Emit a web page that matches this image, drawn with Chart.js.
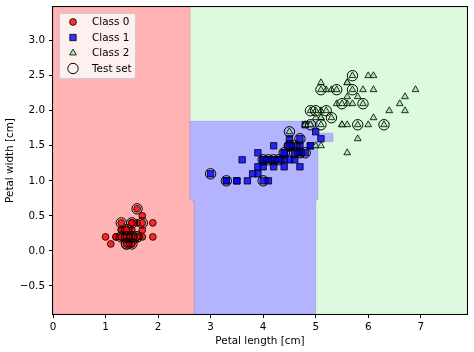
<!DOCTYPE html>
<html>
<head>
<meta charset="utf-8">
<script src="https://cdn.jsdelivr.net/npm/chart.js@4/dist/chart.umd.min.js"></script>
<style>
  html, body { margin: 0; padding: 0; background: #fff; }
  #chart { display: block; }
</style>
</head>
<body>
<canvas id="chart" width="474" height="352"></canvas>
<script>
// Petal length / width per class (iris, train + test)
const class0Length = [1.4,1.4,1.3,1.5,1.4,1.7,1.4,1.5,1.4,1.5,1.5,1.6,1.4,1.1,1.2,1.5,1.3,1.4,1.7,1.5,1.7,1.5,1.0,1.7,1.9,1.6,1.6,1.5,1.4,1.6,1.6,1.5,1.5,1.4,1.5,1.2,1.3,1.4,1.3,1.5,1.3,1.3,1.3,1.6,1.9,1.4,1.6,1.4,1.5,1.4];
const class0Width  = [0.2,0.2,0.2,0.2,0.2,0.4,0.3,0.2,0.2,0.1,0.2,0.2,0.1,0.1,0.2,0.4,0.4,0.3,0.3,0.3,0.2,0.4,0.2,0.5,0.2,0.2,0.4,0.2,0.2,0.2,0.2,0.4,0.1,0.2,0.2,0.2,0.2,0.1,0.2,0.2,0.3,0.3,0.2,0.6,0.4,0.3,0.2,0.2,0.2,0.2];

const class1Length = [4.7,4.5,4.9,4.0,4.6,4.5,4.7,3.3,4.6,3.9,3.5,4.2,4.0,4.7,3.6,4.4,4.5,4.1,4.5,3.9,4.8,4.0,4.9,4.7,4.3,4.4,4.8,5.0,4.5,3.5,3.8,3.7,3.9,5.1,4.5,4.5,4.7,4.4,4.1,4.0,4.4,4.6,4.0,3.3,4.2,4.2,4.2,4.3,3.0,4.1];
const class1Width  = [1.4,1.5,1.5,1.3,1.5,1.3,1.6,1.0,1.3,1.4,1.0,1.5,1.0,1.4,1.3,1.4,1.5,1.0,1.5,1.1,1.8,1.3,1.5,1.2,1.3,1.4,1.4,1.7,1.5,1.0,1.1,1.0,1.2,1.6,1.5,1.6,1.5,1.3,1.3,1.3,1.2,1.4,1.2,1.0,1.3,1.2,1.3,1.3,1.1,1.3];

const class2Length = [6.0,5.1,5.9,5.6,5.8,6.6,4.5,6.3,5.8,6.1,5.1,5.3,5.5,5.0,5.1,5.3,5.5,6.7,6.9,5.0,5.7,4.9,6.7,4.9,5.7,6.0,4.8,4.9,5.6,5.8,6.1,6.4,5.6,5.1,5.6,6.1,5.6,5.5,4.8,5.4,5.6,5.1,5.1,5.9,5.7,5.2,5.0,5.2,5.4,5.1];
const class2Width  = [2.5,1.9,2.1,1.8,2.2,2.1,1.7,1.8,1.8,2.5,2.0,1.9,2.1,2.0,2.4,2.3,1.8,2.2,2.3,1.5,2.3,2.0,2.0,1.8,2.1,1.8,1.8,1.8,2.1,1.6,1.9,2.0,2.2,1.5,1.4,2.3,2.4,1.8,1.8,2.1,2.4,2.3,1.9,2.3,2.5,2.3,1.9,2.0,2.3,1.8];

// circled test samples
const testLength = [1.6,1.3,1.5,1.7,1.4,1.5,1.6,1.4,1.4,1.5,1.3,1.5,1.4,1.6,1.4,
                    3.0,3.3,4.0,4.0,4.2,4.3,4.7,4.5,4.6,4.7,4.8,4.4,4.5,4.6,4.1,
                    5.7,5.1,5.4,5.7,5.5,5.9,4.9,5.0,5.2,5.3,4.9,5.1,5.8,6.3,4.5];
const testWidth  = [0.6,0.4,0.4,0.4,0.1,0.1,0.2,0.3,0.2,0.2,0.2,0.2,0.2,0.2,0.1,
                    1.1,1.0,1.0,1.3,1.3,1.3,1.6,1.5,1.5,1.4,1.4,1.4,1.5,1.4,1.3,
                    2.5,2.3,2.3,2.3,2.1,2.1,2.0,2.0,2.0,1.9,1.8,1.8,1.8,1.8,1.7];

// decision regions (data coords)
const greenRegionX = [0, 7.88, 7.88, 0];
const greenRegionY = [-0.9, -0.9, 3.48, 3.48];
const redRegionX = [0, 2.69, 2.69, 2.61, 2.61, 0];
const redRegionY = [-0.9, -0.9, 0.71, 0.74, 3.48, 3.48];
const blueRegionX = [2.69, 5.00, 5.00, 5.04, 5.04, 5.33, 5.33, 5.04, 5.04, 2.61, 2.61, 2.69];
const blueRegionY = [-0.9, -0.9, 0.71, 0.74, 1.56, 1.56, 1.68, 1.68, 1.85, 1.85, 0.74, 0.71];

const xTicks = [0, 1, 2, 3, 4, 5, 6, 7];
const yTicks = [-0.5, 0.0, 0.5, 1.0, 1.5, 2.0, 2.5, 3.0];

const FONT = { family: 'DejaVu Sans', size: 10.4 };

function toPoints(xs, ys) {
    return xs.map((x, i) => ({ x: x, y: ys[i] }));
}

const regions = [
    { xs: greenRegionX, ys: greenRegionY, color: '#defade', edge: 'rgba(120,200,120,0.5)' },
    { xs: redRegionX, ys: redRegionY, color: '#ffb3b3', edge: 'rgba(200,110,130,0.6)' },
    { xs: blueRegionX, ys: blueRegionY, color: '#b3b3ff', edge: 'rgba(120,120,220,0.6)' }
];

// fill the decision regions under the points
const regionPlugin = {
    id: 'regions',
    beforeDatasetsDraw(chart) {
        const ctx = chart.ctx;
        const xs = chart.scales.x, ys = chart.scales.y;
        const a = chart.chartArea;
        ctx.save();
        ctx.beginPath();
        ctx.rect(a.left, a.top, a.right - a.left, a.bottom - a.top);
        ctx.clip();
        regions.forEach(r => {
            ctx.beginPath();
            r.xs.forEach((x, i) => {
                const px = xs.getPixelForValue(x), py = ys.getPixelForValue(r.ys[i]);
                if (i === 0) ctx.moveTo(px, py); else ctx.lineTo(px, py);
            });
            ctx.closePath();
            ctx.fillStyle = r.color;
            ctx.fill();
            ctx.strokeStyle = r.edge;
            ctx.lineWidth = 0.6;
            ctx.stroke();
        });
        ctx.restore();
    }
};

// matplotlib-like spines on all four sides
const framePlugin = {
    id: 'frame',
    afterDatasetsDraw(chart) {
        const ctx = chart.ctx, a = chart.chartArea;
        ctx.save();
        ctx.strokeStyle = '#000';
        ctx.lineWidth = 1;
        ctx.strokeRect(Math.round(a.left) - 0.5, Math.round(a.top) - 0.5,
                       Math.round(a.right - a.left) + 1, Math.round(a.bottom - a.top) + 1);
        ctx.restore();
    }
};

// legend box in the upper-left corner of the plot
const legendPlugin = {
    id: 'insideLegend',
    afterDraw(chart) {
        const ctx = chart.ctx, a = chart.chartArea;
        const x0 = a.left + 6, y0 = a.top + 6, w = 76, h = 65;
        ctx.save();
        ctx.beginPath();
        ctx.roundRect(x0 + 0.5, y0 + 0.5, w, h, 2);
        ctx.fillStyle = 'rgba(255,255,255,0.8)';
        ctx.fill();
        ctx.strokeStyle = '#cccccc';
        ctx.lineWidth = 1;
        ctx.stroke();
        ctx.font = FONT.size + 'px ' + FONT.family;
        ctx.textBaseline = 'middle';
        chart.data.datasets.forEach((ds, i) => {
            const cy = y0 + 9 + i * 15.5;
            ctx.fillStyle = ds.backgroundColor;
            ctx.strokeStyle = ds.borderColor;
            ctx.lineWidth = ds.borderWidth;
            Chart.helpers.drawPoint(ctx, {
                pointStyle: ds.pointStyle,
                radius: ds.pointRadius,
                borderWidth: ds.borderWidth,
                rotation: 0
            }, x0 + 14, cy);
            ctx.fillStyle = '#000';
            ctx.fillText(ds.label, x0 + 33, cy + 0.5);
        });
        ctx.restore();
    }
};

const tickGrid = {
    display: true,
    drawOnChartArea: false,
    drawTicks: true,
    tickLength: 4,
    tickColor: '#000',
    tickWidth: 1
};

const chart = new Chart(document.getElementById('chart').getContext('2d'), {
    type: 'scatter',
    data: {
        datasets: [{
            label: 'Class 0',
            data: toPoints(class0Length, class0Width),
            pointStyle: 'circle',
            pointRadius: 3.4,
            backgroundColor: 'rgba(255,0,0,0.8)',
            borderColor: 'rgba(0,0,0,0.8)',
            borderWidth: 1,
            order: 4
        }, {
            label: 'Class 1',
            data: toPoints(class1Length, class1Width),
            pointStyle: 'rect',
            pointRadius: 4.5,
            backgroundColor: 'rgba(0,0,255,0.8)',
            borderColor: 'rgba(0,0,0,0.8)',
            borderWidth: 1,
            order: 3
        }, {
            label: 'Class 2',
            data: toPoints(class2Length, class2Width),
            pointStyle: 'triangle',
            pointRadius: 3.9,
            backgroundColor: 'rgba(144,238,144,0.8)',
            borderColor: 'rgba(0,0,0,0.8)',
            borderWidth: 1,
            order: 2
        }, {
            label: 'Test set',
            data: toPoints(testLength, testWidth),
            pointStyle: 'circle',
            pointRadius: 5.2,
            backgroundColor: 'rgba(0,0,0,0)',
            borderColor: '#000',
            borderWidth: 1,
            order: 1
        }]
    },
    options: {
        responsive: false,
        animation: false,
        events: [],
        layout: { padding: { top: 7, right: 7, left: 0, bottom: 0 } },
        plugins: {
            legend: { display: false },
            tooltip: { enabled: false }
        },
        scales: {
            x: {
                type: 'linear',
                min: 0,
                max: 7.88,
                afterBuildTicks: s => { s.ticks = xTicks.map(v => ({ value: v })); },
                afterFit: s => { s.height = 38; s.paddingLeft = 0; s.paddingRight = 0; },
                grid: tickGrid,
                border: { display: false },
                ticks: {
                    color: '#000', padding: 3, font: FONT, maxRotation: 0, autoSkip: false,
                    callback: v => String(v)
                },
                title: {
                    display: true, text: 'Petal length [cm]', color: '#000', font: FONT,
                    padding: { top: 4, bottom: 4 }
                }
            },
            y: {
                type: 'linear',
                min: -0.9,
                max: 3.48,
                afterBuildTicks: s => { s.ticks = yTicks.map(v => ({ value: v })); },
                afterFit: s => { s.width = 53; s.paddingTop = 0; s.paddingBottom = 0; },
                grid: tickGrid,
                border: { display: false },
                ticks: {
                    color: '#000', padding: 4, font: FONT, autoSkip: false,
                    callback: v => (v < 0 ? '\u2212' : '') + Math.abs(v).toFixed(1)
                },
                title: {
                    display: true, text: 'Petal width [cm]', color: '#000', font: FONT,
                    padding: { top: 4, bottom: 4 }
                }
            }
        }
    },
    plugins: [regionPlugin, framePlugin, legendPlugin]
});
</script>
</body>
</html>
